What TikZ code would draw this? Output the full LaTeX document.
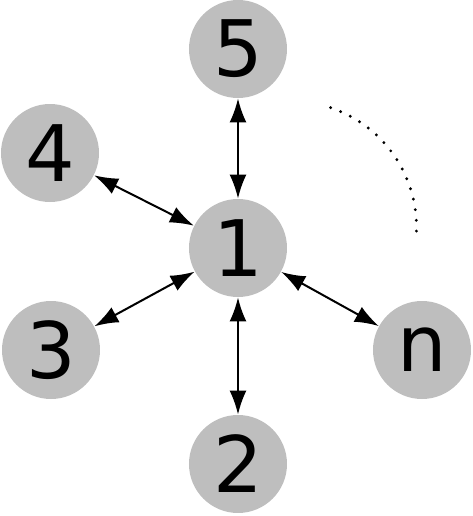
\documentclass[tikz,border=0pt]{standalone}
\usepackage{fontspec}
\setmainfont{DejaVu Sans}
\usepackage{tikz}
\usetikzlibrary{arrows.meta}
\definecolor{kombosgray}{RGB}{190,190,190}

\begin{document}
\begin{tikzpicture}[x = 0.5pt , y = 0.5pt ,
    kombos/.style = {circle , fill = kombosgray , minimum size = 49pt , inner sep = 0pt , font = \fontsize{39pt}{39pt}\selectfont},
    velos/.style = {line width = 1pt , <->, >={Latex[length = 12pt , width = 8.5pt]}},
    teleies/.style = {line width = 1.6pt , line cap = round , dash pattern = on 0pt off 5.366pt}]
    \useasboundingbox (0,0) rectangle (473,516);
    \node[kombos] (k1) at (238,268) {1}; % Κέντρο
    \node[kombos] (k5) at (238,467) {5};
    \node[kombos] (k4) at (50,363) {4};
    \node[kombos] (k3) at (51,166) {3};
    \node[kombos] (k2) at (238,52) {2};
    \node[kombos] (kn) at (422,166) {n};
    \draw[velos] (k1) -- (k5); % Βέλη
    \draw[velos] (k1) -- (k4);
    \draw[velos] (k1) -- (k3);
    \draw[velos] (k1) -- (k2);
    \draw[velos] (k1) -- (kn);
    \draw[teleies] (290.4,288.8) ++(71.4:126.1) arc[start angle = 71.4 , end angle = -6.6 , radius = 126.1]; % Τόξο
\end{tikzpicture}
\end{document}
